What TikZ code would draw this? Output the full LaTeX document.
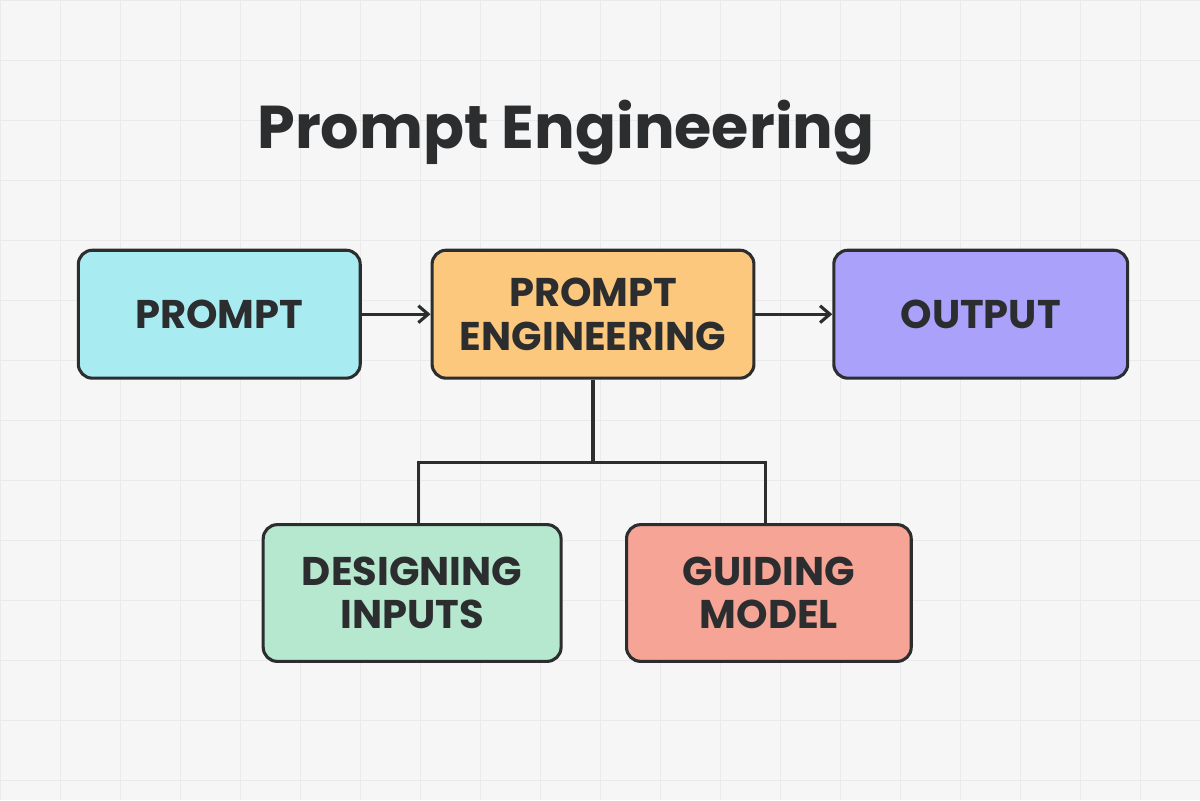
\documentclass[tikz,border=0pt]{standalone}
\usepackage{fontspec}
\setmainfont{Poppins}
\usetikzlibrary{positioning,arrows.meta}
\definecolor{ink}{HTML}{2B2D2F}
\definecolor{paper}{HTML}{F6F6F6}
\definecolor{gridc}{HTML}{EAEAEA}
\definecolor{cyanbox}{HTML}{A8ECF2}
\definecolor{orangebox}{HTML}{FBC87E}
\definecolor{purplebox}{HTML}{A9A1FA}
\definecolor{greenbox}{HTML}{B6E8CF}
\definecolor{salmonbox}{HTML}{F5A495}
\tikzset{
  box/.style={draw=ink, line width=2.2pt, rounded corners=10pt, text=ink,
    font=\fontsize{28.5}{31}\selectfont\bfseries, align=center, inner sep=0pt},
  link/.style={draw=ink, line width=2.2pt},
  arr/.style={link, ->, >={Straight Barb[length=7pt,width=12pt]}}
}
\begin{document}
\begin{tikzpicture}[x=0.025cm, y=-0.025cm]
  % background and faint grid
  \fill[paper] (0,0) rectangle (1200,800);
  \draw[gridc, line width=0.6pt, step=1.5cm] (0,0) grid (1200,800);
  \useasboundingbox (0,0) rectangle (1200,800);

  % title
  \node[text=ink, font=\fontsize{43}{48}\selectfont\bfseries] (title) at (566,132) {Prompt Engineering};

  % top row
  \node[box, fill=cyanbox, minimum width=7.05cm, minimum height=3.2cm] (prompt) at (219,314) {PROMPT};
  \node[box, fill=orangebox, minimum width=8.05cm, minimum height=3.2cm] (engineering) at (593,314) {PROMPT\\ENGINEERING};
  \node[box, fill=purplebox, minimum width=7.35cm, minimum height=3.2cm] (output) at (981,314) {OUTPUT};

  % bottom row
  \node[box, fill=greenbox, minimum width=7.45cm, minimum height=3.42cm] (designing) at (412,593) {DESIGNING\\INPUTS};
  \node[box, fill=salmonbox, minimum width=7.12cm, minimum height=3.42cm] (guiding) at (769,593) {GUIDING\\MODEL};

  % connectors
  \draw[arr] (prompt) -- (engineering);
  \draw[arr] (engineering) -- (output);
  \coordinate (split) at (593,462);
  \draw[link] (engineering.south) -- (split);
  \draw[link] (designing.north -| 418,0) |- (split) -| (guiding.north -| 766,0);
\end{tikzpicture}
\end{document}
